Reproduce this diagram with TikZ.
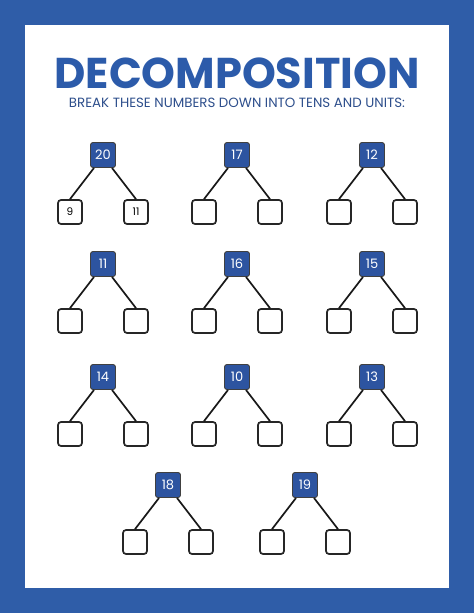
\documentclass[tikz,border=0pt]{standalone}
\usepackage{fontspec}
\setmainfont{Poppins}
\usepackage{graphicx}
\usetikzlibrary{positioning}
\definecolor{frameblue}{HTML}{2F5DA8}
\definecolor{tenblue}{HTML}{2D54A0}
\definecolor{titleblue}{HTML}{2C5BAA}
\definecolor{subblue}{HTML}{2E4F8C}
\tikzset{topbox/.style = {draw=black!75, line width=0.9pt, fill=tenblue, rounded corners=2.5pt, minimum size=25pt, inner sep=0, text=white, font=\fontsize{13}{13}\selectfont}}
\tikzset{unitbox/.style = {draw=black!85, line width=1.7pt, fill=white, rounded corners=3pt, minimum size=24pt, inner sep=0, font=\fontsize{10.5}{10.5}\selectfont}}
\tikzset{branch/.style = {draw=black!90, line width=1.7pt}}

\begin{document}
\begin{tikzpicture}[x=1pt,y=-1pt]
        \fill [frameblue] (0,0) rectangle (474,613);
        \fill [white] (25,25) rectangle (449,588);
        \useasboundingbox (0,0) rectangle (474,613);
        % title
        \node (title) [text=titleblue, inner sep=0] at (237,73) {\resizebox{365pt}{!}{\bfseries DECOMPOSITION}};
        \node (subtitle) [text=subblue, inner sep=0] at (237,103) {\resizebox{336pt}{!}{BREAK THESE NUMBERS DOWN INTO TENS AND UNITS:}};
        % trees
        \foreach \n/\x/\y/\a/\b in {20/103/155/9/11, 17/237/155/{}/{}, 12/372/155/{}/{},
                                    11/103/264/{}/{}, 16/237/264/{}/{}, 15/372/264/{}/{},
                                    14/103/377/{}/{}, 10/237/377/{}/{}, 13/372/377/{}/{},
                                    18/168/485/{}/{}, 19/305/485/{}/{}}{
            \node (top\n) [topbox] at (\x,\y) {\n};
            \node (lft\n) [unitbox] at (\x-33,\y+57) {\a};
            \node (rgt\n) [unitbox] at (\x+33,\y+57) {\b};
            \draw [branch] ([xshift=-9pt]top\n.south) -- (lft\n.north);
            \draw [branch] ([xshift=9pt]top\n.south) -- (rgt\n.north);
        }
    \end{tikzpicture}
\end{document}
